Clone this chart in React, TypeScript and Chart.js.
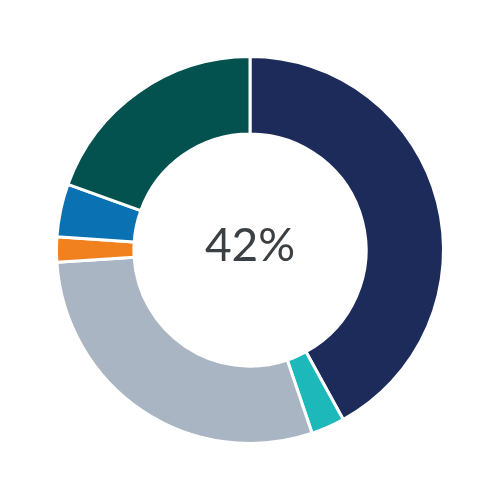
import React, { useEffect, useRef } from "react";
import { Chart, registerables } from "chart.js";

Chart.register(...registerables);

const categories = ["Segment A", "Segment B", "Segment C", "Segment D", "Segment E", "Segment F"];
const values = [42, 2.8, 29.2, 2.1, 4.4, 19.5];
const colors = ["#1c2b5a", "#1db8b9", "#aab5c4", "#f1811f", "#0a71b3", "#03524f"];
const centerLabel = "42%";

const centerText = {
  id: "centerText",
  afterDraw(chart: any) {
    const { ctx } = chart;
    const meta = chart.getDatasetMeta(0);
    const arc = meta.data[0];
    if (!arc) return;
    const { x, y } = arc;
    ctx.save();
    ctx.font = "46px Lato";
    ctx.fillStyle = "#3b4045";
    ctx.textAlign = "center";
    ctx.textBaseline = "middle";
    ctx.fillText(centerLabel, x, y - 4);
    ctx.restore();
  },
};

export default function App() {
  const ref = useRef<HTMLCanvasElement>(null);
  useEffect(() => {
    if (!ref.current) return;
    const chart = new Chart(ref.current, {
      type: "doughnut",
      data: {
        labels: categories,
        datasets: [
          {
            data: values,
            backgroundColor: colors,
            borderColor: "#ffffff",
            borderWidth: 3,
          },
        ],
      },
      options: {
        animation: false,
        responsive: false,
        cutout: "60%",
        layout: { padding: 55 },
        plugins: {
          legend: { display: false },
          tooltip: { enabled: false },
        },
      },
      plugins: [centerText],
    });
    return () => chart.destroy();
  }, []);
  return (
    <div style={{ position: "absolute", left: 0, top: 0, width: 500, height: 500, background: "#fff" }}>
      <canvas ref={ref} width={500} height={500} style={{ width: 500, height: 500 }} />
    </div>
  );
}
